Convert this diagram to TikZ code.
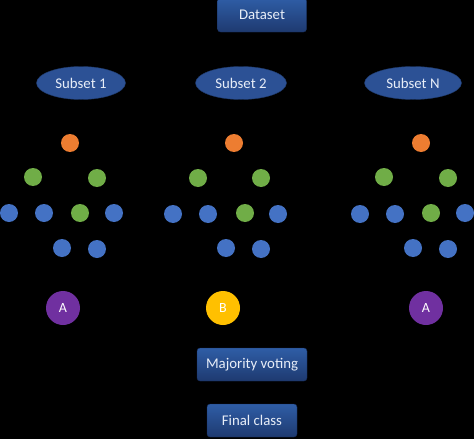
\documentclass[tikz,border=0pt]{standalone}
\usepackage{fontspec}
\setmainfont{Carlito}
\usetikzlibrary{shapes.geometric}
\definecolor{boxtop}{HTML}{2F5DA6}
\definecolor{boxbot}{HTML}{1E3A70}
\definecolor{ellc}{HTML}{2C5195}
\definecolor{orng}{HTML}{ED7D31}
\definecolor{grn}{HTML}{70AD47}
\definecolor{blu}{HTML}{4472C4}
\definecolor{purp}{HTML}{7030A0}
\definecolor{yel}{HTML}{FFC000}
\definecolor{txt}{HTML}{E8EEF8}
\tikzset{
  boxnode/.style={rectangle, rounded corners=3pt, top color=boxtop, bottom color=boxbot, draw=boxbot!80!black, line width=0.4pt, text=txt, font=\fontsize{14.8}{17}\selectfont, inner sep=0pt},
  ellnode/.style={ellipse, fill=ellc, draw=ellc!70!black, line width=0.4pt, text=txt, font=\fontsize{14.8}{17}\selectfont, minimum width=89pt, minimum height=33pt, inner sep=0pt},
  ball/.style={circle, minimum size=18pt, inner sep=0pt},
  ob/.style={ball, fill=orng},
  gb/.style={ball, fill=grn},
  bb/.style={ball, fill=blu},
  vote/.style={circle, minimum size=34pt, inner sep=0pt, text=white, font=\fontsize{14}{16}\selectfont},
}
\begin{document}
\begin{tikzpicture}[x=1pt,y=-1pt]
\fill[black] (0,0) rectangle (474,439);
\useasboundingbox (0,0) rectangle (474,439);
\node[boxnode, minimum width=89pt, minimum height=34pt] (ds) at (262,15) {Dataset};
\node[ellnode] (s1) at (81,83) {Subset 1};
\node[ellnode, minimum width=91pt] (s2) at (241,83) {Subset 2};
\node[ellnode, minimum width=97pt] (sn) at (413,83) {Subset N};
% tree 1
\node[ob] (t1r) at (70,143) {};
\node[gb] (t1a) at (33,177) {};
\node[gb] (t1b) at (97,178) {};
\node[bb] (t1c) at (9,213) {};
\node[bb] (t1d) at (44,213) {};
\node[gb] (t1e) at (80,213) {};
\node[bb] (t1f) at (114,213) {};
\node[bb] (t1g) at (62,248) {};
\node[bb] (t1h) at (97,249) {};
% tree 2
\node[ob] (t2r) at (234,143) {};
\node[gb] (t2a) at (198,178) {};
\node[gb] (t2b) at (261,178) {};
\node[bb] (t2c) at (173,214) {};
\node[bb] (t2d) at (208,214) {};
\node[gb] (t2e) at (245,213) {};
\node[bb] (t2f) at (278,214) {};
\node[bb] (t2g) at (226,248) {};
\node[bb] (t2h) at (261,249) {};
% tree 3
\node[ob] (t3r) at (421,143) {};
\node[gb] (t3a) at (384,177) {};
\node[gb] (t3b) at (448,178) {};
\node[bb] (t3c) at (360,214) {};
\node[bb] (t3d) at (395,214) {};
\node[gb] (t3e) at (431,213) {};
\node[bb] (t3f) at (465,213) {};
\node[bb] (t3g) at (413,248) {};
\node[bb] (t3h) at (448,249) {};
% votes
\node[vote, fill=purp] (v1) at (63,308) {A};
\node[vote, fill=yel] (v2) at (223,308) {B};
\node[vote, fill=purp] (v3) at (426,308) {A};
\node[boxnode, minimum width=110pt, minimum height=33pt] (mv) at (252,364.5) {Majority voting};
\node[boxnode, minimum width=90pt, minimum height=33pt] (fc) at (252,420.5) {Final class};
\end{tikzpicture}
\end{document}
